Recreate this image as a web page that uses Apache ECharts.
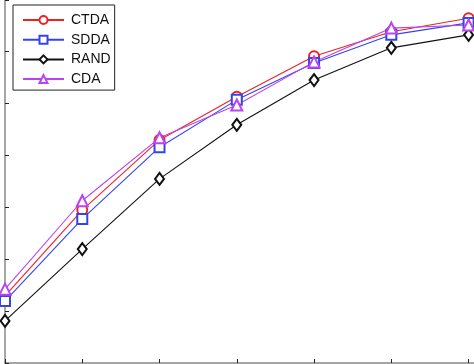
<!DOCTYPE html>
<html><head><meta charset="utf-8">
<script src="https://cdn.jsdelivr.net/npm/echarts@6/dist/echarts.min.js"></script>
<style>html,body{margin:0;padding:0;background:#fff}#c{width:474px;height:364px}</style>
</head><body><div id="c"></div>
<script>
const xValues = [1, 2, 3, 4, 5, 6, 7];
const seriesNames = ['CTDA', 'SDDA', 'RAND', 'CDA'];
const ctda = [1.29, 2.94, 4.29, 5.12, 5.90, 6.37, 6.63];
const sdda = [1.19, 2.77, 4.15, 5.06, 5.77, 6.31, 6.54];
const rand = [0.81, 2.19, 3.54, 4.58, 5.44, 6.06, 6.31];
const cda  = [1.42, 3.12, 4.33, 4.96, 5.79, 6.44, 6.50];

const colors = ['#ee2222', '#3344ee', '#111111', '#bb44ee'];
const symbols = ['emptyCircle', 'emptyRect', 'emptyDiamond', 'emptyTriangle'];
const sizes = [10, 10, [9, 12], 11];
const values = [ctda, sdda, rand, cda];

const chart = echarts.init(document.getElementById('c'), null, {renderer: 'canvas'});
chart.setOption({
  animation: false,
  backgroundColor: '#fff',
  grid: {left: 5, right: 0, top: 0, bottom: 1, containLabel: false},
  xAxis: {
    type: 'value', min: 1, max: 7.07, interval: 1,
    axisLine: {show: true, lineStyle: {color: '#888', width: 1.5}},
    axisTick: {show: true, inside: true, length: 4, lineStyle: {color: '#222'}},
    axisLabel: {show: false},
    splitLine: {show: false}
  },
  yAxis: {
    type: 'value', min: 0, max: 6.98, interval: 1,
    axisLine: {show: true, lineStyle: {color: '#888', width: 1.5}},
    axisTick: {show: true, inside: true, length: 4, lineStyle: {color: '#222'}},
    axisLabel: {show: false},
    splitLine: {show: false}
  },
  legend: {
    orient: 'vertical',
    left: 13, top: 5,
    padding: [8, 4, 4, 9],
    itemWidth: 41, itemHeight: 10, itemGap: 5.7,
    borderColor: '#222', borderWidth: 1,
    backgroundColor: '#fff',
    textStyle: {fontFamily: 'Liberation Sans, Arial, sans-serif', fontSize: 14, lineHeight: 14, color: '#111', padding: [0, 0, 0, 2]},
    data: seriesNames
  },
  series: seriesNames.map((n, i) => ({
    name: n, type: 'line',
    data: xValues.map((x, j) => [x, values[i][j]]),
    symbol: symbols[i], symbolSize: sizes[i], showSymbol: true,
    lineStyle: {color: colors[i], width: 1.1},
    itemStyle: {color: colors[i], borderColor: colors[i], borderWidth: 1},
    color: colors[i],
    clip: false
  }))
});
</script></body></html>
